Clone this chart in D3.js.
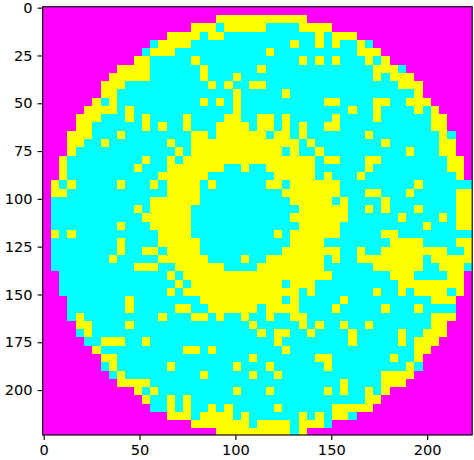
<!DOCTYPE html>
<html>
<head>
<meta charset="utf-8">
<script src="https://cdn.jsdelivr.net/npm/d3@7"></script>
<style>
  html, body { margin: 0; padding: 0; background: #fff; }
  svg { display: block; }
  .tick text { font-family: "DejaVu Sans", sans-serif; font-size: 14.6px; fill: #000; }
  .tick line { stroke: #000; stroke-width: 1.15px; }
</style>
</head>
<body>
<svg id="chart" width="474" height="460"></svg>
<script>
// tick labels
var xTicks = [0, 50, 100, 150, 200];
var yTicks = [0, 25, 50, 75, 100, 125, 150, 175, 200];

// first and last block of each row inside the disc, everything else is magenta
var firstCol = [52,21,18,15,13,12,11,9,8,7,7,6,5,4,4,3,3,3,2,2,2,1,1,1,1,1,1,1,1,1,1,1,2,2,2,3,3,3,4,4,5,6,7,7,8,9,11,12,13,15,18,21];
var lastCol = [-1,31,34,37,39,40,41,43,44,45,45,46,47,48,48,49,49,49,50,50,50,51,51,51,51,51,51,51,51,51,51,51,50,50,50,49,49,49,48,48,47,46,45,45,44,43,41,40,39,37,34,31];

// yellow runs per row, [from, to] block numbers, the rest of the disc is cyan
var yellowRuns = [
  [],
  [[21,31]],
  [[18,20],[22,26],[31,34]],
  [[15,18],[20,21],[33,33],[35,37]],
  [[14,17],[30,30],[33,33],[35,35],[38,38]],
  [[13,15],[27,27],[38,40]],
  [[11,12],[18,18],[31,31],[33,33],[35,35],[39,39],[41,41]],
  [[9,12],[19,19],[26,26],[40,42]],
  [[8,12],[19,19],[23,23],[40,40],[42,44]],
  [[7,9],[20,20],[22,22],[25,26],[43,45]],
  [[7,8],[23,23],[29,29],[45,45]],
  [[6,6],[8,8],[19,19],[21,21],[23,23],[34,35],[40,41],[44,46]],
  [[5,8],[10,10],[23,23],[37,37],[40,40],[45,45],[47,47]],
  [[4,6],[10,10],[12,12],[17,17],[22,23],[26,27],[29,29],[35,35],[40,40],[47,48]],
  [[4,5],[12,12],[14,14],[17,17],[21,24],[26,27],[29,29],[31,31],[34,35],[47,48]],
  [[3,5],[9,9],[18,19],[21,26],[28,29],[31,31],[39,39],[48,48]],
  [[3,4],[7,7],[15,15],[18,30],[32,32],[41,41],[48,49]],
  [[3,3],[16,16],[18,28],[30,30],[33,33],[44,44],[48,49]],
  [[2,2],[12,12],[15,15],[17,32],[34,35],[39,40],[49,50]],
  [[2,2],[11,11],[15,21],[24,24],[27,32],[39,39],[49,50]],
  [[2,2],[14,19],[28,32],[34,34],[38,38],[50,50]],
  [[1,1],[3,3],[9,9],[13,13],[15,18],[20,20],[27,28],[30,35],[45,45]],
  [[1,2],[15,18],[29,35],[39,40],[44,44],[50,51]],
  [[13,18],[30,34],[36,36],[41,41],[50,51]],
  [[11,11],[13,17],[31,36],[39,39],[41,41],[45,45],[50,51]],
  [[12,17],[30,36],[43,43],[48,48],[50,51]],
  [[9,9],[13,17],[31,35],[46,46],[50,51]],
  [[1,1],[3,3],[14,17],[28,28],[30,35],[41,42]],
  [[9,9],[14,18],[30,33],[42,45],[50,51]],
  [[9,9],[12,13],[15,18],[29,35],[38,38],[41,48],[51,51]],
  [[8,8],[14,19],[24,24],[27,33],[35,35],[38,45],[47,51]],
  [[11,13],[16,21],[26,33],[40,45],[48,50]],
  [[15,15],[17,34],[42,44],[49,50]],
  [[16,16],[18,28],[30,32],[43,50]],
  [[15,15],[17,30],[32,32],[40,40],[43,43],[45,48],[50,50]],
  [[10,10],[19,28],[30,30],[36,36],[47,49]],
  [[10,10],[16,17],[20,25],[27,30],[35,35],[41,41],[45,45]],
  [[4,4],[14,14],[18,19],[21,21],[24,24],[27,27],[30,31],[47,49]],
  [[4,5],[10,10],[25,25],[31,31],[33,33],[36,36],[39,39],[47,48]],
  [[5,5],[26,26],[28,29],[32,32],[37,37],[43,43],[46,48]],
  [[7,9],[12,12],[28,28],[37,37],[43,43],[45,47]],
  [[6,6],[17,18],[20,20],[29,29],[45,46]],
  [[7,8],[25,25],[33,34],[42,42],[45,45]],
  [[8,8],[15,15],[23,23],[27,27],[34,34],[44,44]],
  [[9,9],[19,19],[25,25],[28,28],[41,44]],
  [[9,12],[36,36],[41,43]],
  [[11,11],[13,13],[23,23],[27,27],[34,34],[36,36],[39,39],[41,41]],
  [[12,12],[15,15],[17,17],[39,40]],
  [[15,15],[17,17],[20,20],[22,22],[28,28],[35,39]],
  [[15,17],[19,22],[24,24],[31,31],[33,33],[35,36]],
  [[18,24],[26,29],[31,33]],
  [[21,29],[31,31]]
];

var colors = {m: '#ff00ff', c: '#00ffff', y: '#ffff00'};
var colBlock = 224 / 52;
var rowBlock = 4.325;

var svg = d3.select('#chart');
var x = d3.scaleLinear().domain([-0.5, 223.5]).range([42.7, 472.2]);
var y = d3.scaleLinear().domain([-0.5, 223.5]).range([6.7, 435]);

svg.append('clipPath').attr('id', 'frame').append('rect')
  .attr('x', x(-0.5)).attr('y', y(-0.5))
  .attr('width', x(223.5) - x(-0.5)).attr('height', y(223.5) - y(-0.5));

// one cell per block, matplotlib imshow style
var cells = [];
yellowRuns.forEach(function (runs, r) {
  for (var c = 0; c < 52; c++) {
    var kind = 'c';
    if (c < firstCol[r] || c > lastCol[r]) kind = 'm';
    else if (runs.some(function (d) { return c >= d[0] && c <= d[1]; })) kind = 'y';
    cells.push({r: r, c: c, kind: kind});
  }
});

svg.append('g').attr('clip-path', 'url(#frame)')
  .selectAll('rect').data(cells).join('rect')
  .attr('x', function (d) { return x(d.c * colBlock - 0.5); })
  .attr('y', function (d) { return y(d.r * rowBlock - 0.5); })
  .attr('width', x(colBlock) - x(0))
  .attr('height', y(rowBlock) - y(0))
  .attr('fill', function (d) { return colors[d.kind]; })
  .attr('shape-rendering', 'crispEdges');

var xAxis = d3.axisBottom(x).tickValues(xTicks).tickSize(5.1).tickPadding(5);
var yAxis = d3.axisLeft(y).tickValues(yTicks).tickSize(5.1).tickPadding(5);

svg.append('g').attr('transform', 'translate(0,' + y(223.5) + ')').call(xAxis)
  .call(function (g) { g.select('.domain').remove(); });
svg.append('g').attr('transform', 'translate(' + x(-0.5) + ',0)').call(yAxis)
  .call(function (g) { g.select('.domain').remove(); });

// frame
svg.append('rect')
  .attr('x', x(-0.5)).attr('y', y(-0.5))
  .attr('width', x(223.5) - x(-0.5)).attr('height', y(223.5) - y(-0.5))
  .attr('fill', 'none').attr('stroke', '#000').attr('stroke-width', 1.15);
</script>
</body>
</html>
